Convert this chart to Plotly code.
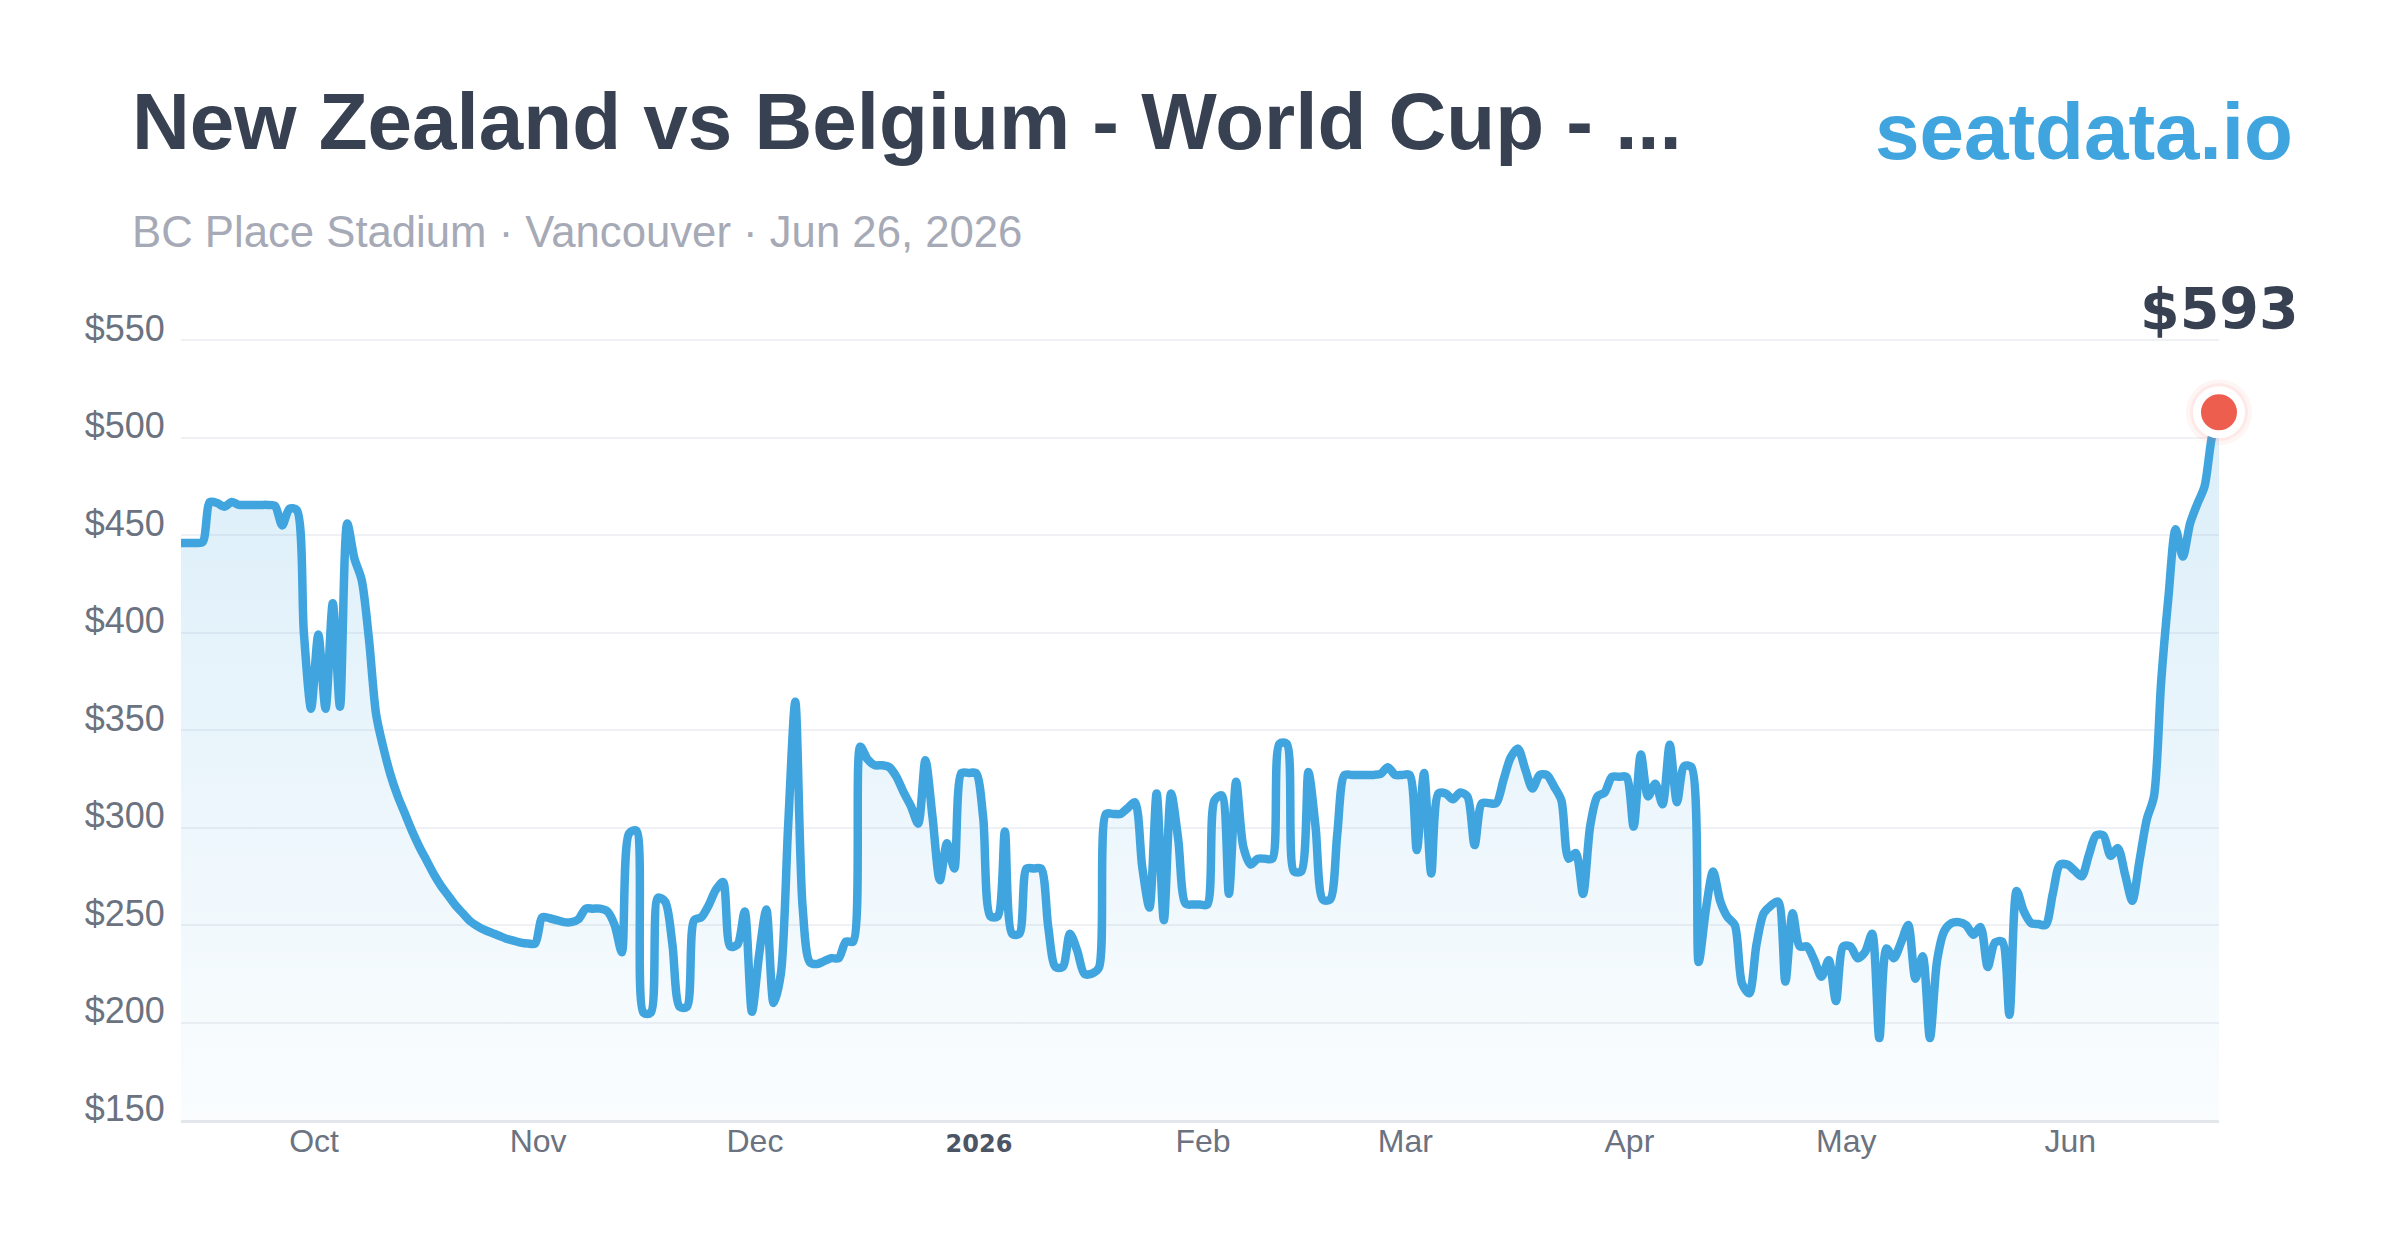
import plotly.graph_objects as go
import pandas as pd

# ---- data (daily prices) ----
first_day = "2025-09-12 14:00"
prices = [
    446, 446, 446, 446.5, 467, 466.5, 464.5, 467, 465.5, 465.5,
    465.5, 465.5, 465.5, 465, 455, 463.5, 463, 400, 361, 399,
    361, 415, 362, 456, 438, 427, 397, 358, 341, 327,
    316, 307, 298, 290, 283, 276, 270, 265, 260, 256,
    252, 249.5, 247.5, 246, 244.5, 243, 242, 241, 240.5, 240.5,
    254, 253.5, 252.5, 251.5, 251.5, 253, 258.4, 258.4, 258.4, 257,
    250, 236, 297, 298.5, 205, 205, 264, 262, 240, 208,
    208, 252.5, 254, 260, 268, 272, 239, 240, 257, 205.5,
    235, 258, 210, 225, 300, 364.5, 260, 231, 230, 231.5,
    233, 233, 241.5, 241.5, 341.5, 335, 332, 332, 331, 326,
    318, 311, 302, 334.5, 305, 273, 292, 279, 328, 328,
    328, 305, 254.5, 254.5, 298, 245.5, 245.5, 279, 279, 279,
    249, 228.5, 228.5, 245.5, 237, 225, 225, 228, 307, 307,
    307, 310, 313, 280, 259, 317.5, 252.5, 317.5, 293.5, 261,
    260.5, 260.5, 260.5, 314, 316.5, 266, 323.5, 290, 281, 284,
    284, 284, 343, 343, 277.5, 277.5, 328.5, 300, 263, 263,
    297, 327, 327, 327, 327, 327, 327.5, 331, 327, 327,
    327, 288.5, 328, 276.5, 317.5, 317.5, 314.5, 318, 316, 291,
    312.5, 312.5, 312.5, 324.5, 336, 340.5, 330, 320, 327, 327,
    321, 314, 284, 287, 266, 301, 316, 318, 326, 326,
    326, 300.5, 337.5, 316, 322.5, 312, 342.5, 313, 331.5, 331,
    231, 258, 277.5, 262, 254, 250, 220, 215, 240, 256,
    260, 262, 221, 256, 239, 239, 232, 223.5, 232, 211,
    239, 239, 233, 236, 245.5, 192, 238, 233, 241, 250,
    222.5, 234, 192, 232, 247, 251, 251.5, 250, 245, 249,
    228.5, 241, 241.5, 204, 267.5, 257, 251, 250.5, 250, 266,
    281, 281, 278, 275, 286, 296, 296, 285.5, 289.5, 276,
    262.5, 283, 304, 316, 375, 418, 453, 439, 456, 466,
    475, 500, 513,
]
dates = pd.date_range(first_day, periods=len(prices), freq="D")

month_ticks = ["2025-10-01", "2025-11-01", "2025-12-01", "2026-01-01", "2026-02-01",
               "2026-03-01", "2026-04-01", "2026-05-01", "2026-06-01"]
month_labels = ["Oct", "Nov", "Dec", "2026", "Feb", "Mar", "Apr", "May", "Jun"]
y_ticks = [150, 200, 250, 300, 350, 400, 450, 500, 550]
y_labels = ["$" + str(v) for v in y_ticks]

title_text = "New Zealand vs Belgium - World Cup - ..."
subtitle_text = "BC Place Stadium · Vancouver · Jun 26, 2026"
brand_text = "seatdata.io"
price_label = "$593"

LINE = "#40a5df"
RED = "#ee5e4f"

tick_text = []
for lab in month_labels:
    if lab.isdigit():
        tick_text.append("<span style='font-family:DejaVu Sans;font-size:24px;"
                         "font-weight:bold;fill:#4b5563'>" + lab + "</span>")
    else:
        tick_text.append(lab)

fig = go.Figure()
fig.add_trace(go.Scatter(
    x=dates, y=prices, mode="lines",
    line=dict(color=LINE, width=8.5, shape="spline", smoothing=0.8),
    fill="tozeroy",
    fillgradient=dict(type="vertical", start=150, stop=513,
                      colorscale=[[0, "rgba(64,165,223,0.025)"],
                                  [1, "rgba(64,165,223,0.19)"]]),
    hoverinfo="skip", showlegend=False,
))
# glow + dot at latest value
fig.add_trace(go.Scatter(
    x=[dates[-1]], y=[prices[-1]], mode="markers",
    marker=dict(size=66, color="rgba(238,94,79,0.06)", line=dict(width=0)),
    cliponaxis=False, hoverinfo="skip", showlegend=False))
fig.add_trace(go.Scatter(
    x=[dates[-1]], y=[prices[-1]], mode="markers",
    marker=dict(size=58, color="rgba(238,94,79,0.08)", line=dict(width=0)),
    cliponaxis=False, hoverinfo="skip", showlegend=False))
fig.add_trace(go.Scatter(
    x=[dates[-1]], y=[prices[-1]], mode="markers",
    marker=dict(size=44, color=RED, line=dict(width=8, color="white")),
    cliponaxis=False, hoverinfo="skip", showlegend=False))

L, R, T, B = 181, 181, 339, 140
fig.update_layout(
    width=2400, height=1260,
    margin=dict(l=L, r=R, t=T, b=B),
    paper_bgcolor="white", plot_bgcolor="white",
    font=dict(family="Liberation Sans", color="#6b7280"),
    xaxis=dict(
        range=[dates[0], dates[-1]],
        tickvals=month_ticks, ticktext=tick_text,
        tickfont=dict(family="Liberation Sans", size=32, color="#6b7280"),
        showgrid=False, zeroline=False,
        showline=True, linecolor="#e3e6ea", linewidth=3,
        ticks="outside", ticklen=2, tickcolor="rgba(0,0,0,0)",
        ticklabelstandoff=-11,
    ),
    yaxis=dict(
        range=[150, 550.6],
        tickvals=y_ticks, ticktext=y_labels,
        tickfont=dict(family="Liberation Sans", size=36, color="#6b7280"),
        showgrid=True, gridcolor="#f0f1f4", gridwidth=2,
        zeroline=False, showline=False,
        ticks="outside", ticklen=8, tickcolor="rgba(0,0,0,0)",
        ticklabelshift=-12,
    ),
    hovermode=False,
)

fig.add_annotation(
    text=title_text, xref="paper", yref="paper",
    x=(130 - L) / 2038, y=(1120 - 122.5) / 780,
    xanchor="left", yanchor="middle", showarrow=False,
    font=dict(family="Liberation Sans", size=80, color="#374151", weight=700))
fig.add_annotation(
    text=subtitle_text, xref="paper", yref="paper",
    x=(130 - L) / 2038, y=(1120 - 232.5) / 780,
    xanchor="left", yanchor="middle", showarrow=False,
    font=dict(family="Liberation Sans", size=43.7, color="#a6a9b6"))
fig.add_annotation(
    text=brand_text, xref="paper", yref="paper",
    x=(2295 - L) / 2038, y=(1120 - 133) / 780,
    xanchor="right", yanchor="middle", showarrow=False,
    font=dict(family="Liberation Sans", size=80, color=LINE, weight=700))
fig.add_annotation(
    text=price_label, xref="x", yref="paper",
    x=dates[-1], y=(1120 - 310) / 780,
    xanchor="center", yanchor="middle", showarrow=False,
    font=dict(family="DejaVu Sans", size=57, color="#374151", weight=700))

fig.write_html("out.html")
